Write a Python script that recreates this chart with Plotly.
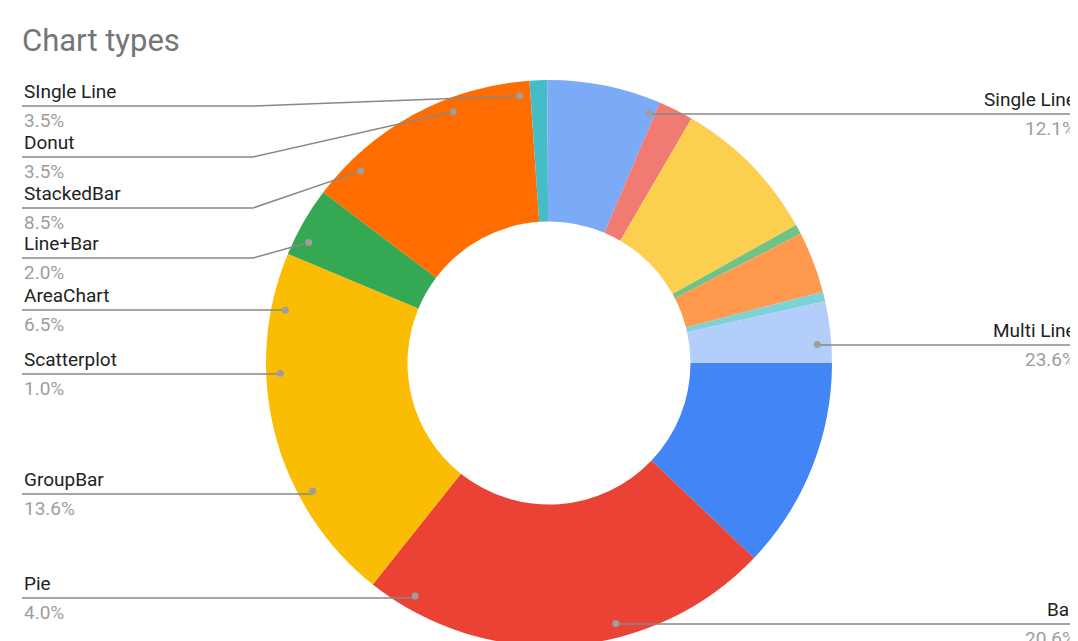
import plotly.graph_objects as go
import math

labels = ["Single Line", "Multi Line", "Bar", "Pie", "GroupBar", "Scatterplot", "AreaChart",
          "Line+Bar", "StackedBar", "Other A", "Donut", "Other B", "SIngle Line"]
values = [12.1, 23.6, 20.6, 4.0, 13.6, 1.0, 6.5, 2.0, 8.5, 0.55, 3.5, 0.55, 3.5]
colors = ["#4285F4", "#EA4335", "#FBBC04", "#34A853", "#FF6D01", "#46BDC6", "#7BAAF7",
          "#F07B72", "#FCD04F", "#71C287", "#FF994D", "#7ED1D7", "#B3CEFB"]
shown = ["Single Line", "Multi Line", "Bar", "Pie", "GroupBar", "Scatterplot", "AreaChart",
         "Line+Bar", "StackedBar", "Donut", "SIngle Line"]

W, H = 1078, 641
cx, cy, R = 541, 355, 283
# label layout: side, y of leader line (px), elbow x for left side
layout_pos = {
    "Single Line": ("r", 106, None), "Multi Line": ("r", 337, None), "Bar": ("r", 616, None),
    "SIngle Line": ("l", 98, 245), "Donut": ("l", 149, 245), "StackedBar": ("l", 200, 245),
    "Line+Bar": ("l", 250, 245), "AreaChart": ("l", 302, None), "Scatterplot": ("l", 366, None),
    "GroupBar": ("l", 486, None), "Pie": ("l", 590, None),
}

def px(x, y):
    return x / W, 1 - y / H

fig = go.Figure(go.Pie(labels=labels, values=values, sort=False, direction="clockwise",
                       rotation=90, hole=0.5, marker=dict(colors=colors, line=dict(width=0)),
                       textinfo="none", hoverinfo="label+percent",
                       domain=dict(x=[(cx - R) / W, (cx + R) / W], y=[1 - (cy + R) / H, 1 - (cy - R) / H])))

total = sum(values)
shapes, annos = [], []
cum = 0
for lab, v in zip(labels, values):
    mid = (cum + v / 2) / total * 2 * math.pi
    cum += v
    if lab not in shown:
        continue
    side, ly, ex = layout_pos[lab]
    dx = cx + 0.95 * R * math.sin(mid)
    dy = cy - 0.95 * R * math.cos(mid)
    if side == "r":
        path = f"M {dx/W} {1-dy/H} L {dx/W} {1-ly/H} L {1070/W} {1-ly/H}"
        xa, anchor = 1070 / W, "right"
    else:
        e = ex if ex is not None else dx
        path = f"M {14/W} {1-ly/H} L {e/W} {1-ly/H} L {dx/W} {1-dy/H}"
        xa, anchor = 14 / W, "left"
    shapes.append(dict(type="path", xref="paper", yref="paper", path=path,
                       line=dict(color="#888888", width=1.5)))
    shapes.append(dict(type="circle", xref="paper", yref="paper",
                       x0=(dx - 3.5) / W, x1=(dx + 3.5) / W, y0=1 - (dy + 3.5) / H, y1=1 - (dy - 3.5) / H,
                       fillcolor="#9e9e9e", line=dict(width=0)))
    annos.append(dict(xref="paper", yref="paper", x=xa, y=1 - (ly - 1) / H, text=lab, showarrow=False,
                      xanchor=anchor, yanchor="bottom", font=dict(size=19, color="#222222")))
    annos.append(dict(xref="paper", yref="paper", x=xa, y=1 - (ly + 1) / H, text=f"{v:.1f}%", showarrow=False,
                      xanchor=anchor, yanchor="top", font=dict(size=19, color="#9e9e9e")))

annos.append(dict(xref="paper", yref="paper", x=12 / W, y=1 - 32 / H, text="Chart types", showarrow=False,
                  xanchor="left", yanchor="middle", font=dict(size=31, color="#757575")))

fig.update_layout(width=W, height=H, margin=dict(l=0, r=0, t=0, b=0), showlegend=False,
                  paper_bgcolor="white", font=dict(family="Roboto, Arial"),
                  shapes=shapes, annotations=annos)
fig.write_html("out.html")
